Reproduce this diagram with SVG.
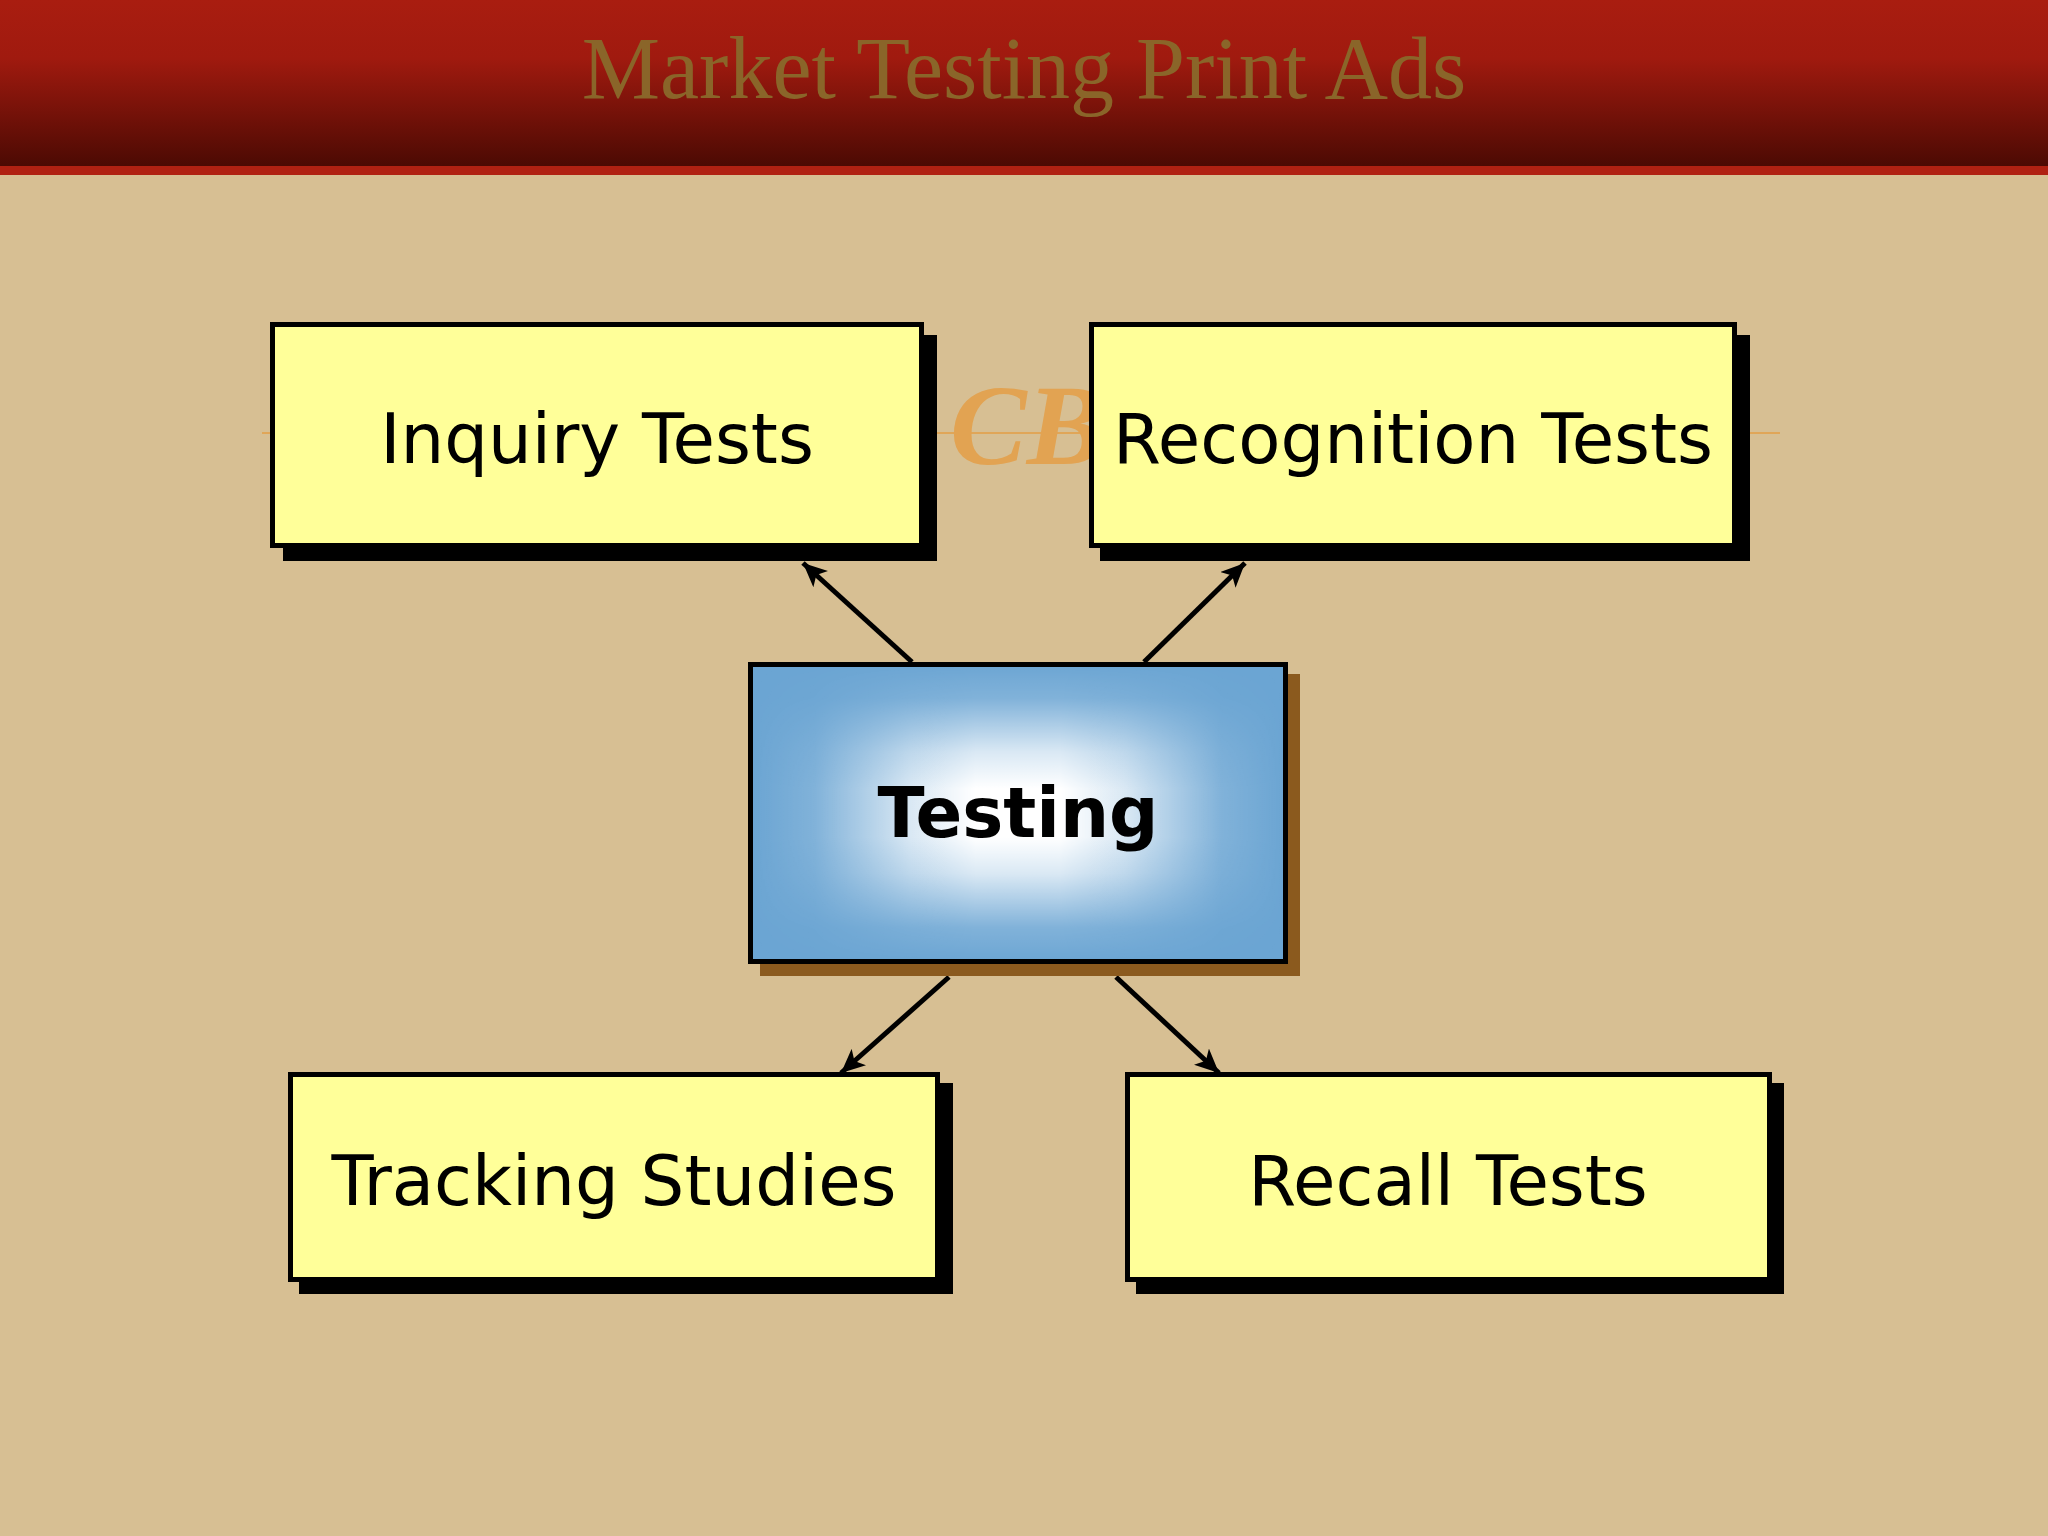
<svg xmlns="http://www.w3.org/2000/svg" width="2048" height="1536" viewBox="0 0 2048 1536">
<defs>
<linearGradient id="hdr" x1="0" y1="0" x2="0" y2="1">
<stop offset="0" stop-color="#A91D10"/>
<stop offset="0.35" stop-color="#A01A0F"/>
<stop offset="1" stop-color="#4C0A03"/>
</linearGradient>
<linearGradient id="hgrad" x1="0" y1="0" x2="1" y2="0">
<stop offset="0" stop-color="#FFFFFF" stop-opacity="0"/>
<stop offset="0.12" stop-color="#FFFFFF" stop-opacity="0.15"/>
<stop offset="0.3" stop-color="#FFFFFF" stop-opacity="0.75"/>
<stop offset="0.42" stop-color="#FFFFFF" stop-opacity="1"/>
<stop offset="0.58" stop-color="#FFFFFF" stop-opacity="1"/>
<stop offset="0.7" stop-color="#FFFFFF" stop-opacity="0.75"/>
<stop offset="0.88" stop-color="#FFFFFF" stop-opacity="0.15"/>
<stop offset="1" stop-color="#FFFFFF" stop-opacity="0"/>
</linearGradient>
<linearGradient id="vgrad" x1="0" y1="0" x2="0" y2="1">
<stop offset="0" stop-color="#000000"/>
<stop offset="0.12" stop-color="#262626"/>
<stop offset="0.3" stop-color="#C0C0C0"/>
<stop offset="0.42" stop-color="#FFFFFF"/>
<stop offset="0.58" stop-color="#FFFFFF"/>
<stop offset="0.7" stop-color="#C0C0C0"/>
<stop offset="0.88" stop-color="#262626"/>
<stop offset="1" stop-color="#000000"/>
</linearGradient>
<mask id="vmask" maskUnits="userSpaceOnUse" x="748" y="662" width="540" height="302">
<rect x="748" y="662" width="540" height="302" fill="url(#vgrad)"/>
</mask>
<marker id="ah" markerUnits="userSpaceOnUse" markerWidth="26" markerHeight="22" refX="24" refY="11" orient="auto" viewBox="0 0 26 22">
<path d="M0,0 L24,11 L0,22 L6,11 Z" fill="#000"/>
</marker>
<style>
.box{fill:#FFFF99;stroke:#000;stroke-width:5}
.sh{fill:#000}
.lbl{font-family:"DejaVu Sans",Verdana,sans-serif;font-size:69px;fill:#000;text-anchor:middle}
.conn{stroke:#000;stroke-width:5;fill:none;marker-end:url(#ah)}
</style>
</defs>
<rect x="0" y="0" width="2048" height="1536" fill="#D7BF93"/>
<rect x="0" y="0" width="2048" height="166" fill="url(#hdr)"/>
<rect x="0" y="166" width="2048" height="9" fill="#B02112"/>
<text x="1024" y="98" font-family="'Liberation Serif',serif" font-size="88" fill="#8A6529" text-anchor="middle">Market Testing Print Ads</text>
<g id="ornament">
<line x1="262" y1="433" x2="1780" y2="433" stroke="#E0A658" stroke-width="2"/>
<text x="950" y="464" font-family="'Liberation Serif',serif" font-style="italic" font-weight="bold" font-size="115" fill="#E2A352">CB</text>
</g>
<g id="connectors">
<line class="conn" x1="912" y1="662" x2="803" y2="563"/>
<line class="conn" x1="1144" y1="662" x2="1245" y2="563"/>
<line class="conn" x1="949" y1="977" x2="841" y2="1073"/>
<line class="conn" x1="1116" y1="977" x2="1219" y2="1073"/>
</g>
<g id="inquiry">
<rect class="sh" x="283" y="335" width="654" height="226"/>
<rect class="box" x="272.5" y="324.5" width="649" height="221"/>
<text class="lbl" x="597" y="463" font-size="70">Inquiry Tests</text>
</g>
<g id="recognition">
<rect class="sh" x="1100" y="335" width="650" height="226"/>
<rect class="box" x="1091.5" y="324.5" width="643" height="221"/>
<text class="lbl" x="1413" y="463">Recognition Tests</text>
</g>
<g id="testing">
<rect x="760" y="674" width="540" height="302" fill="#8B5A1E"/>
<rect x="750.5" y="664.5" width="535" height="297" fill="#6BA5D3"/>
<rect x="750.5" y="664.5" width="535" height="297" fill="url(#hgrad)" mask="url(#vmask)"/>
<rect x="750.5" y="664.5" width="535" height="297" fill="none" stroke="#000" stroke-width="5"/>
<text x="1018" y="837" font-family="'DejaVu Sans',Verdana,sans-serif" font-weight="bold" font-size="69" fill="#000" text-anchor="middle">Testing</text>
</g>
<g id="tracking">
<rect class="sh" x="299" y="1083" width="654" height="211"/>
<rect class="box" x="290.5" y="1074.5" width="647" height="205"/>
<text class="lbl" x="614" y="1205">Tracking Studies</text>
</g>
<g id="recall">
<rect class="sh" x="1136" y="1083" width="648" height="211"/>
<rect class="box" x="1127.5" y="1074.5" width="642" height="205"/>
<text class="lbl" x="1448" y="1205">Recall Tests</text>
</g>
</svg>
